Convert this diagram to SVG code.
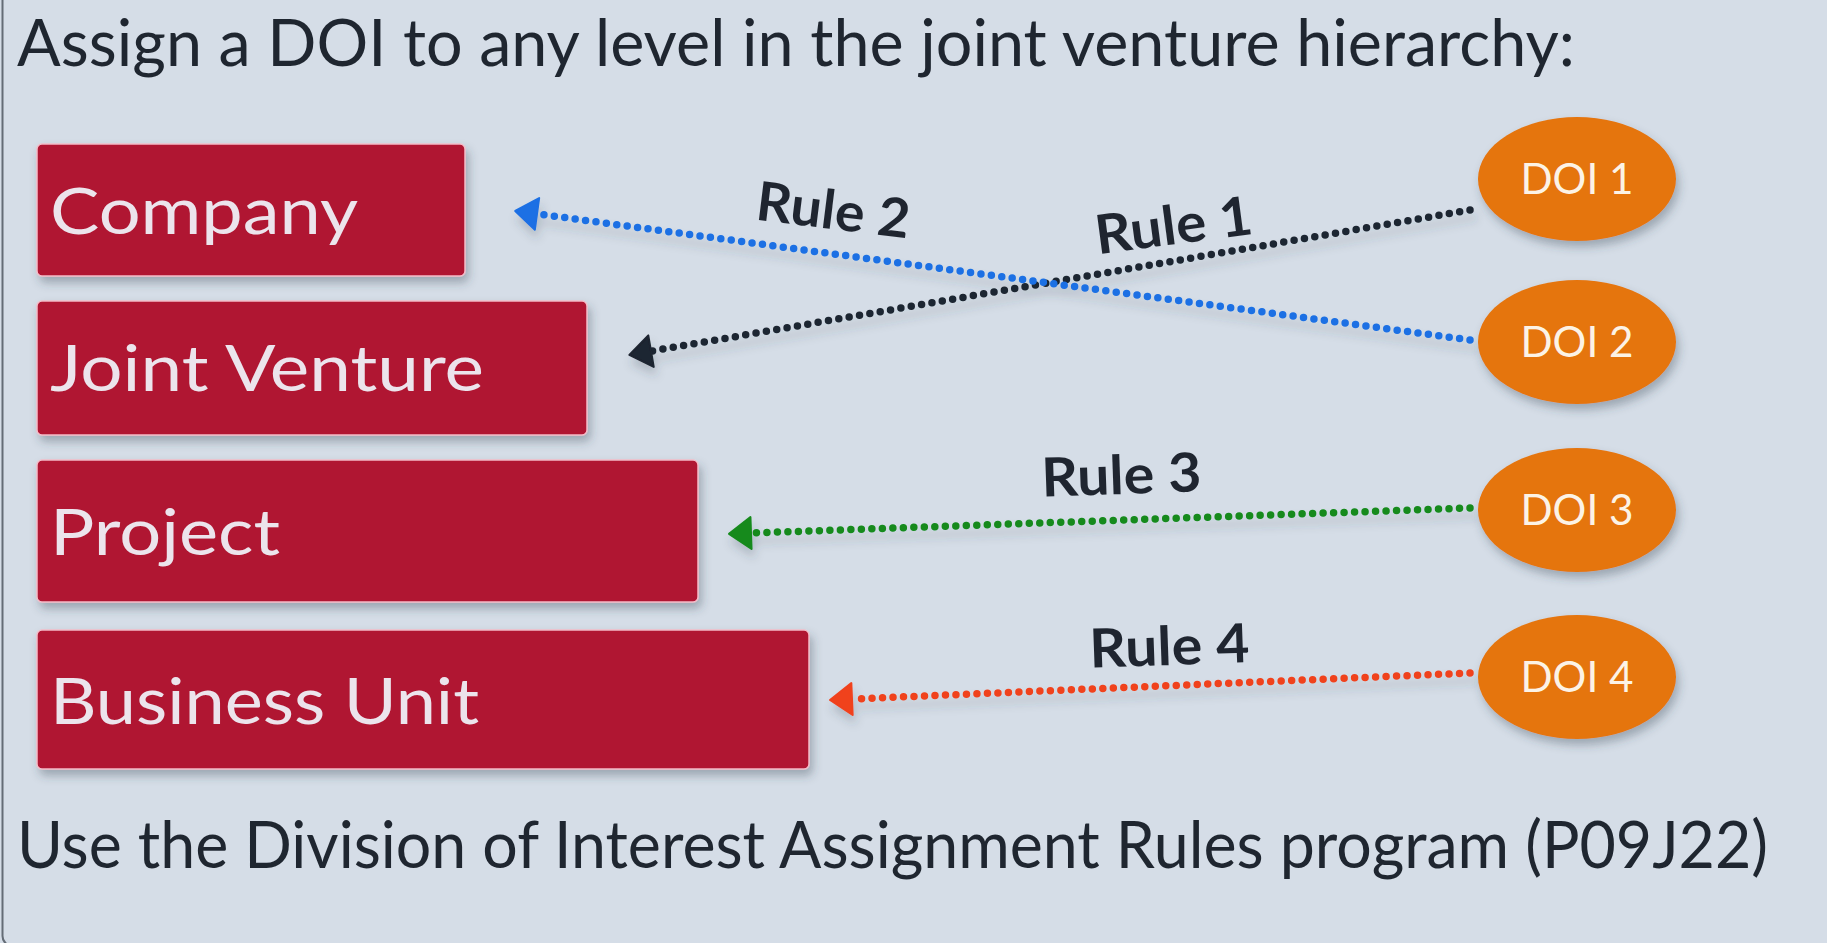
<svg xmlns="http://www.w3.org/2000/svg" width="1827" height="943" viewBox="0 0 1827 943">
  <defs>
    <style>
      .title { font-family: Lato, "Liberation Sans", sans-serif; font-size: 66px; fill: #1f2630; }
      .box { fill: #b01232; stroke: #f3bcc7; stroke-width: 1.5; }
      .boxtxt { font-family: Lato, "Noto Sans", sans-serif; font-size: 63px; fill: #ece4ec; }
      .doi { fill: #e5750f; }
      .doitxt { font-family: Lato, "Noto Sans", sans-serif; font-size: 42px; fill: #fcf3e6; text-anchor: middle; }
      .rule { font-family: Lato, "Liberation Sans", sans-serif; font-weight: bold; font-size: 54px; fill: #1f2530; text-anchor: middle; }
      .dots { fill: none; stroke-width: 7.5; stroke-dasharray: 0 10.5; stroke-linecap: round; }
    </style>
    <filter id="sh" x="-20%" y="-20%" width="140%" height="160%">
      <feDropShadow dx="3" dy="6" stdDeviation="5" flood-color="#34404e" flood-opacity="0.35"/>
    </filter>
    <filter id="lsh" x="-10%" y="-100%" width="120%" height="300%">
      <feDropShadow dx="2" dy="8" stdDeviation="5" flood-color="#34404e" flood-opacity="0.22"/>
    </filter>
    <marker id="a1" viewBox="0 0 26 36" refX="1" refY="18" markerWidth="26" markerHeight="36" markerUnits="userSpaceOnUse" orient="auto">
      <path d="M2,2 L24,18 L2,34 z" fill="#1e2530" stroke="#1e2530" stroke-width="2" stroke-linejoin="round"/>
    </marker>
    <marker id="a2" viewBox="0 0 26 36" refX="1" refY="18" markerWidth="26" markerHeight="36" markerUnits="userSpaceOnUse" orient="auto">
      <path d="M2,2 L24,18 L2,34 z" fill="#1b6fe4" stroke="#1b6fe4" stroke-width="2" stroke-linejoin="round"/>
    </marker>
    <marker id="a3" viewBox="0 0 26 36" refX="1" refY="18" markerWidth="26" markerHeight="36" markerUnits="userSpaceOnUse" orient="auto">
      <path d="M2,2 L24,18 L2,34 z" fill="#148a1c" stroke="#148a1c" stroke-width="2" stroke-linejoin="round"/>
    </marker>
    <marker id="a4" viewBox="0 0 26 36" refX="1" refY="18" markerWidth="26" markerHeight="36" markerUnits="userSpaceOnUse" orient="auto">
      <path d="M2,2 L24,18 L2,34 z" fill="#f0421e" stroke="#f0421e" stroke-width="2" stroke-linejoin="round"/>
    </marker>
  </defs>

  <rect x="0" y="0" width="1827" height="943" fill="#d5dde7"/>
  <rect x="2.5" y="-10" width="1900" height="956" rx="10" fill="none" stroke="#646c76" stroke-width="2"/>

  <text class="title" x="17" y="66" textLength="1558" lengthAdjust="spacingAndGlyphs">Assign a DOI to any level in the joint venture hierarchy:</text>
  <text class="title" x="17" y="868" textLength="1751" lengthAdjust="spacingAndGlyphs">Use the Division of Interest Assignment Rules program (P09J22)</text>

  <g id="connectors">
    <g filter="url(#lsh)">
      <path id="c1" class="dots" stroke="#1e2530" d="M1470,210 L652,351" marker-end="url(#a1)"/>
      <path id="c2" class="dots" stroke="#1b6fe4" d="M1470,340 L538,214" marker-end="url(#a2)"/>
      <path id="c3" class="dots" stroke="#148a1c" d="M1470,508 L752,533" marker-end="url(#a3)"/>
      <path id="c4" class="dots" stroke="#f0421e" d="M1470,673 L853,699" marker-end="url(#a4)"/>
    </g>
    <text class="rule" x="831" y="229" textLength="154" lengthAdjust="spacingAndGlyphs" transform="rotate(7 831 229)">Rule 2</text>
    <text class="rule" x="1176" y="244" textLength="158" lengthAdjust="spacingAndGlyphs" transform="rotate(-7.5 1176 244)">Rule 1</text>
    <text class="rule" x="1122" y="494" textLength="160" lengthAdjust="spacingAndGlyphs" transform="rotate(-2 1122 494)">Rule 3</text>
    <text class="rule" x="1170" y="665" textLength="160" lengthAdjust="spacingAndGlyphs" transform="rotate(-2 1170 665)">Rule 4</text>
  </g>

  <g id="company">
    <rect class="box" x="37" y="144" width="428" height="132" rx="5" filter="url(#sh)"/>
    <text class="boxtxt" x="50" y="234" textLength="308" lengthAdjust="spacingAndGlyphs">Company</text>
  </g>
  <g id="joint-venture">
    <rect class="box" x="37" y="301" width="550" height="134" rx="5" filter="url(#sh)"/>
    <text class="boxtxt" x="50" y="391" textLength="434" lengthAdjust="spacingAndGlyphs">Joint Venture</text>
  </g>
  <g id="project">
    <rect class="box" x="37" y="460" width="661" height="142" rx="5" filter="url(#sh)"/>
    <text class="boxtxt" x="50" y="555" textLength="230" lengthAdjust="spacingAndGlyphs">Project</text>
  </g>
  <g id="business-unit">
    <rect class="box" x="37" y="630" width="772" height="139" rx="5" filter="url(#sh)"/>
    <text class="boxtxt" x="50" y="724" textLength="429" lengthAdjust="spacingAndGlyphs">Business Unit</text>
  </g>

  <g id="doi1">
    <ellipse class="doi" cx="1577" cy="179" rx="99" ry="62" filter="url(#sh)"/>
    <text class="doitxt" x="1577" y="194" textLength="113" lengthAdjust="spacingAndGlyphs">DOI 1</text>
  </g>
  <g id="doi2">
    <ellipse class="doi" cx="1577" cy="342" rx="99" ry="62" filter="url(#sh)"/>
    <text class="doitxt" x="1577" y="357" textLength="113" lengthAdjust="spacingAndGlyphs">DOI 2</text>
  </g>
  <g id="doi3">
    <ellipse class="doi" cx="1577" cy="510" rx="99" ry="62" filter="url(#sh)"/>
    <text class="doitxt" x="1577" y="525" textLength="113" lengthAdjust="spacingAndGlyphs">DOI 3</text>
  </g>
  <g id="doi4">
    <ellipse class="doi" cx="1577" cy="677" rx="99" ry="62" filter="url(#sh)"/>
    <text class="doitxt" x="1577" y="692" textLength="113" lengthAdjust="spacingAndGlyphs">DOI 4</text>
  </g>
</svg>
